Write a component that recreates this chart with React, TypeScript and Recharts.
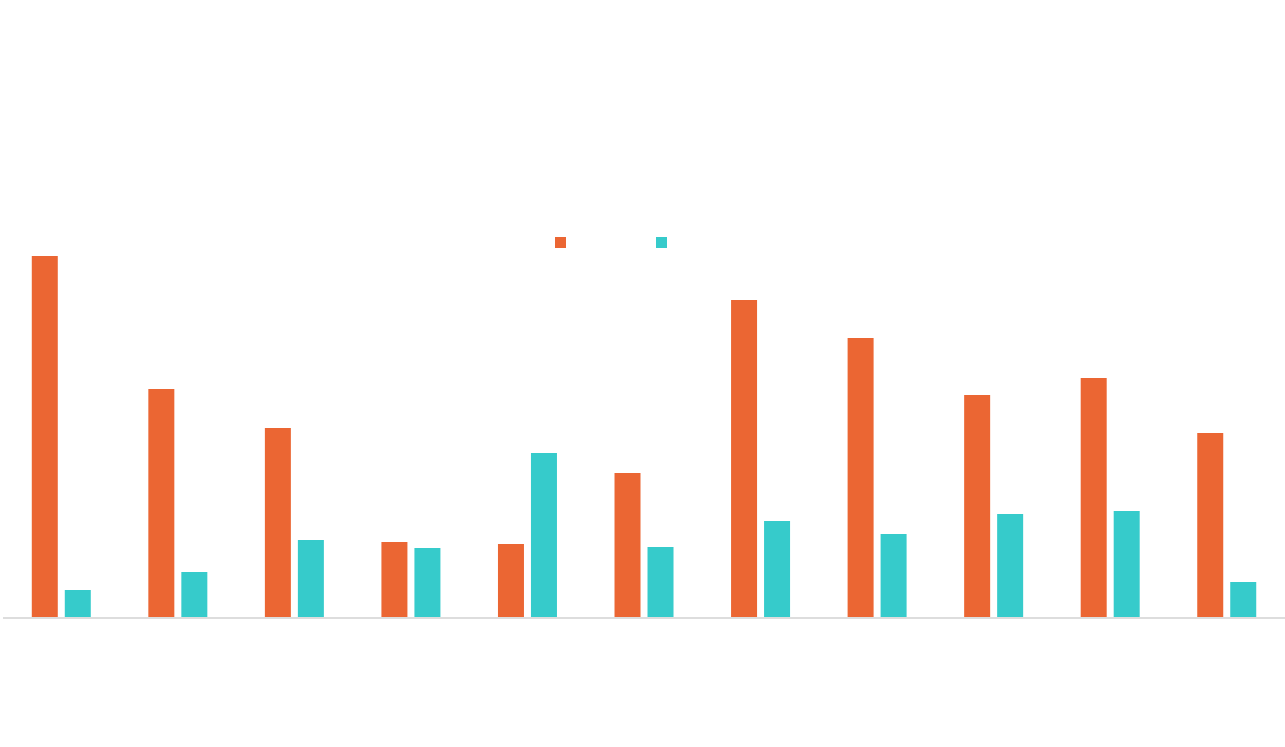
import { Bar, BarChart, Legend, XAxis, YAxis } from "recharts";

const categories = ["A", "B", "C", "D", "E", "F", "G", "H", "I", "J", "K"];
const seriesOne = [362, 229, 190, 76, 74, 145, 318, 280, 223, 240, 185];
const seriesTwo = [28, 46, 78, 70, 165, 71, 97, 84, 104, 107, 36];

const ORANGE = "#EB6633";
const CYAN = "#36CBCB";

const chartData = categories.map((name, index) => ({
  name,
  first: seriesOne[index],
  second: seriesTwo[index],
}));

type LegendItem = { value?: string; color?: string };

function SquareLegend({ payload }: { payload?: LegendItem[] }) {
  return (
    <div style={{ display: "flex" }}>
      {(payload ?? []).map((item) => (
        <div
          key={item.value}
          style={{
            width: 11,
            height: 11,
            marginRight: 90,
            background: item.color,
          }}
        />
      ))}
    </div>
  );
}

export default function App() {
  return (
    <div style={{ position: "fixed", left: 0, top: 0, background: "#fff" }}>
      <BarChart
        width={1285}
        height={747}
        data={chartData}
        margin={{ top: 218, right: 0, bottom: 116, left: 3 }}
        barGap={7}
        barCategoryGap="24.7%"
      >
        <XAxis
          dataKey="name"
          height={2}
          tick={false}
          tickLine={false}
          axisLine={{ stroke: "#dddddd", strokeWidth: 2 }}
        />
        <YAxis hide domain={[0, 400]} />
        <Legend
          content={<SquareLegend />}
          wrapperStyle={{ top: 237, left: 555, width: "auto" }}
        />
        <Bar dataKey="first" fill={ORANGE} isAnimationActive={false} />
        <Bar dataKey="second" fill={CYAN} isAnimationActive={false} />
      </BarChart>
    </div>
  );
}
